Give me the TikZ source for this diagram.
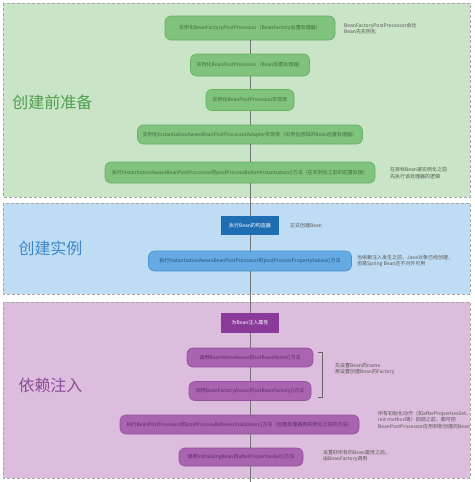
\documentclass[tikz,border=0pt]{standalone}
\usepackage{fontspec}
\setmainfont{Noto Sans CJK SC}

\definecolor{prepbg}{HTML}{C9E4C6}
\definecolor{prepnode}{HTML}{80C37C}
\definecolor{prepline}{HTML}{66AF63}
\definecolor{preptext}{HTML}{3E6E3C}
\definecolor{preptitle}{HTML}{4F9F4E}
\definecolor{instbg}{HTML}{BEDCF3}
\definecolor{instnode}{HTML}{65AAE2}
\definecolor{instline}{HTML}{4C92CE}
\definecolor{insttext}{HTML}{234E78}
\definecolor{insttitle}{HTML}{3F87C8}
\definecolor{ctordark}{HTML}{1F6DB3}
\definecolor{injbg}{HTML}{DDBDDD}
\definecolor{injnode}{HTML}{AA63B1}
\definecolor{injline}{HTML}{94509C}
\definecolor{injtext}{HTML}{5E2A66}
\definecolor{injtitle}{HTML}{8B4B9B}
\definecolor{injdark}{HTML}{8A3A98}
\definecolor{notegray}{HTML}{555555}

\begin{document}
\begin{tikzpicture}[x=1pt,y=-1pt,
  phase/.style={dash pattern=on 3pt off 2pt,draw=gray!70,line width=0.6pt},
  phasetitle/.style={font=\fontsize{16}{18}\selectfont},
  stepbox/.style={rounded corners=6pt,minimum height=19pt,inner sep=0pt,line width=0.6pt,font=\fontsize{5}{6}\selectfont},
  prepbox/.style={stepbox,draw=prepline,fill=prepnode,text=preptext},
  instbox/.style={stepbox,draw=instline,fill=instnode,text=insttext},
  injbox/.style={stepbox,draw=injline,fill=injnode,text=injtext},
  darkbox/.style={minimum width=58pt,minimum height=19pt,inner sep=0pt,text=white,font=\fontsize{5}{6}\selectfont},
  note/.style={anchor=west,align=left,inner sep=0pt,text=notegray,font=\fontsize{5}{6.5}\selectfont},
  flowline/.style={draw=gray!90!black,line width=0.8pt}]

\useasboundingbox (0,0) rectangle (474,482);

\draw[phase,fill=prepbg] (3,3) rectangle (470,197);
\draw[phase,fill=instbg] (3,203) rectangle (470,294);
\draw[phase,fill=injbg] (3,302) rectangle (470,478);

\node[phasetitle,text=preptitle] (preptitle) at (52.5,102) {创建前准备};
\node[phasetitle,text=insttitle] (insttitle) at (50.5,248) {创建实例};
\node[phasetitle,text=injtitle] (injtitle) at (50.5,385) {依赖注入};

\node[prepbox,minimum width=170pt,minimum height=24pt] (bfpp) at (250,28) {实例化BeanFactoryPostProcessor（BeanFactory后置处理器）};
\node[prepbox,minimum width=119pt,minimum height=22pt] (bpp) at (250,65) {实例化BeanPostProcessor（Bean后置处理器）};
\node[prepbox,minimum width=88pt,minimum height=21pt] (bppimpl) at (250,100) {实例化BeanPostProcessor实现类};
\node[prepbox,minimum width=225pt] (iabppa) at (250,134.5) {实例化InstantiationAwareBeanPostProcessorAdapter实现类（实例化感知的Bean后置处理器）};
\node[prepbox,minimum width=270pt,minimum height=21pt] (beforeinst) at (240,172.5) {执行InstantiationAwareBeanPostProcessor的postProcessBeforeInstantiation()方法（在实例化之前的前置处理）};
\node[note] (bfppnote) at (344,28.5) {BeanFactoryPostProcessor会比\\Bean先实例化};
\node[note] (beforenote) at (390,173) {在目标Bean被实例化之前\\先执行该处理器的逻辑};

\node[darkbox,fill=ctordark] (ctor) at (250,225.5) {执行Bean的构造器};
\node[instbox,minimum width=203pt,minimum height=20pt] (propvals) at (250,261) {执行InstantiationAwareBeanPostProcessor的postProcessPropertyValues()方法};
\node[note] (ctornote) at (290,225.5) {正式创建Bean};
\node[note] (propnote) at (357,261) {当依赖注入发生之前，Java对象已经创建，\\但是Spring Bean还不对外可用};

\node[darkbox,minimum height=20pt,fill=injdark] (inject) at (250,323) {为Bean注入属性};
\node[injbox,minimum width=126pt] (beanname) at (250,357.5) {调用BeanNameAware的setBeanName()方法};
\node[injbox,minimum width=122pt] (beanfactory) at (250,391) {调用BeanFactoryAware的setBeanFactory()方法};
\node[injbox,minimum width=239pt] (beforeinit) at (239.5,424.5) {执行BeanPostProcessor的postProcessBeforeInitialization()方法（后置处理器再实例化之前的方法）};
\node[injbox,minimum width=124pt,minimum height=18pt] (afterprops) at (241,457) {调用InitializingBean的afterPropertiesSet()方法};
\node[note] (awarenote) at (335,369) {先设置Bean的name\\再设置创建Bean的Factory};
\node[note] (initnote) at (378,420) {所有初始化动作（如afterPropertiesSet、\\init-method等）回调之前，都可把\\BeanPostProcessor应用到新创建的Bean};
\node[note] (afterpropsnote) at (323,456) {设置好所有的Bean属性之后，\\由BeanFactory调用};

\coordinate (lineend) at (250,482);

\draw[flowline] (bfpp.south) -- (bpp.north) (bpp.south) -- (bppimpl.north) (bppimpl.south) -- (iabppa.north);
\draw[flowline] (iabppa.south) -- (iabppa.south |- beforeinst.north) (iabppa.south |- beforeinst.south) -- (ctor.north);
\draw[flowline] (ctor.south) -- (propvals.north) (propvals.south) -- (inject.north);
\draw[flowline] (inject.south) -- (beanname.north) (beanname.south) -- (beanfactory.north);
\draw[flowline] (beanfactory.south) -- (beanfactory.south |- beforeinit.north) (beanfactory.south |- beforeinit.south) -- (beanfactory.south |- afterprops.north);
\draw[flowline] (beanfactory.south |- afterprops.south) -- (lineend);

\draw[draw=gray!80!black,line width=0.6pt] (318,352) -- (322,352) -- (322,397) -- (318,397);

\end{tikzpicture}
\end{document}
